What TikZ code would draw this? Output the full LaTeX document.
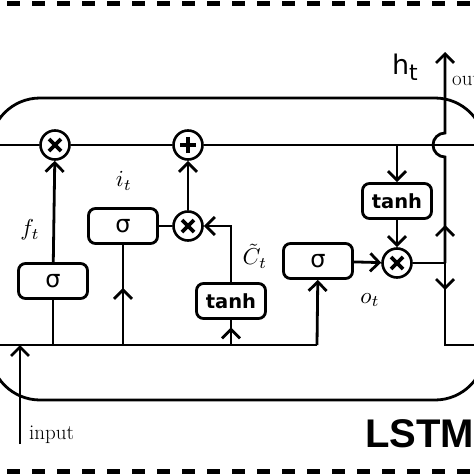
\documentclass[tikz,border=0pt]{standalone}
\usepackage{fontspec}
\usepackage{graphicx}
\usepackage{tikz}
\usetikzlibrary{arrows.meta,positioning,decorations.markings}
\newfontfamily\gatefont{DejaVu Sans}
\newfontfamily\titlefont{Liberation Sans}
\newcommand{\biglabel}[1]{\scalebox{2.3}{$#1$}}

\begin{document}
\begin{tikzpicture}[
  x=1pt,
  y=-1pt,
  wire/.style={
    draw=black,
    line width=2.8pt
  },
  feed/.style={
    wire,
    -{Straight Barb[length=9pt,width=18pt]}
  },
  midfeed/.style={
    wire,
    postaction={decorate},
    decoration={markings,
      mark=at position #1 with {\arrow{Straight Barb[length=9pt,width=18pt]}}}
  },
  midfeed/.default=0.5,
  gatebox/.style={
    rectangle,
    rounded corners=7pt,
    draw=black,
    fill=white,
    line width=2.8pt,
    minimum width=69pt,
    minimum height=35pt,
    inner sep=0pt,
    font=\fontsize{24}{24}\selectfont\gatefont
  },
  tanhbox/.style={
    gatebox,
    font=\fontsize{19.5}{20}\selectfont\gatefont\bfseries
  },
  opcircle/.style={
    circle,
    draw=black,
    fill=white,
    line width=2.6pt,
    minimum size=29pt,
    inner sep=0pt
  },
  mulop/.style={
    opcircle,
    path picture={
      \draw[line width=3.8pt]
        ([shift={(-6pt,-6pt)}]path picture bounding box.center) --
        ([shift={(6pt,6pt)}]path picture bounding box.center)
        ([shift={(-6pt,6pt)}]path picture bounding box.center) --
        ([shift={(6pt,-6pt)}]path picture bounding box.center);
    }
  },
  addop/.style={
    opcircle,
    path picture={
      \draw[line width=3.8pt]
        ([shift={(-8pt,0pt)}]path picture bounding box.center) --
        ([shift={(8pt,0pt)}]path picture bounding box.center)
        ([shift={(0pt,-8pt)}]path picture bounding box.center) --
        ([shift={(0pt,8pt)}]path picture bounding box.center);
    }
  },
  mathlabel/.style={
    inner sep=0pt
  },
  textlabel/.style={
    inner sep=0pt,
    font=\fontsize{21}{21}\selectfont
  },
  dashframe/.style={
    draw=black,
    line width=5pt,
    dash pattern=on 13pt off 12pt
  }
]

\useasboundingbox (0,0) rectangle (474,474);
\fill[white] (0,0) rectangle (474,474);
\clip (0,0) rectangle (474,474);

% dashed frame, top and bottom
\coordinate (frameTL) at (7,3);
\coordinate (frameTR) at (480,3);
\coordinate (frameBL) at (7,471);
\coordinate (frameBR) at (480,471);
\draw[dashframe] (frameTL) -- (frameTR);
\draw[dashframe] (frameBL) -- (frameBR);

% cell outline
\draw[wire, rounded corners=50pt] (-10,98) rectangle (485,400);

% Gates
\node[gatebox] (fgate) at (53,281) {σ};
\node[gatebox] (igate) at (123,226) {σ};
\node[tanhbox] (cgate) at (231,301) {tanh};
\node[gatebox] (ogate) at (318,261) {σ};
\node[tanhbox] (htanh) at (397,201) {tanh};

% Pointwise operations
\node[mulop] (fmul) at (55,145) {};
\node[addop] (cadd) at (188,145) {};
\node[mulop] (imul) at (188,226) {};
\node[mulop] (omul) at (397,263) {};

% Free ends and bends
\coordinate (cellL) at (-10,145);
\coordinate (cellR) at (480,145);
\coordinate (inL)   at (-10,345);
\coordinate (inC)   at (317,345);
\coordinate (inbot) at (20,444);
\coordinate (intip) at (20,345);
\coordinate (outJ)  at (445,263);
\coordinate (hopS)  at (445,157);
\coordinate (htop)  at (445,52);
\coordinate (hbot)  at (445,345);
\coordinate (hR)    at (480,345);

% Cell state
\draw[wire] (cellL) -- (fmul) -- (cadd) -- (cellR);

% Input bus
\draw[feed] (inbot) -- (intip);
\draw[wire] (inL) -- (inC);
\draw[wire] (fgate |- inL) -- (fgate);
\draw[midfeed=0.57] (igate |- inL) -- (igate);
\draw[midfeed=0.7] (cgate |- inL) -- (cgate);
\draw[feed] (inC) -- (ogate);

% Gate outputs
\draw[feed] (fgate) -- (fmul);
\draw[wire] (igate) -- (imul);
\draw[feed] (cgate) |- (imul);
\draw[feed] (imul) -- (cadd);
\draw[feed] (ogate) -- (omul);
\draw[feed] (htanh |- cellL) -- (htanh);
\draw[feed] (htanh) -- (omul);

% Hidden state out
\draw[wire] (omul) -- (outJ);
\draw[wire, -{Straight Barb[length=9pt,width=18pt]},
  postaction={decorate},
  decoration={markings,
    mark=at position 38pt with {\arrow{Straight Barb[length=9pt,width=18pt]}}}]
  (outJ) -- (hopS) arc[start angle=90, end angle=270, radius=12] -- (htop);
\draw[wire,
  postaction={decorate},
  decoration={markings,
    mark=at position 27pt with {\arrow{Straight Barb[length=9pt,width=18pt]}}}]
  (outJ) -- (hbot) -- (hR);

% Labels
\node[mathlabel] (flabel) at (30,230) {\biglabel{f_t}};
\node[mathlabel] (ilabel) at (124,181) {\biglabel{i_t}};
\node[mathlabel] (clabel) at (255,256) {\biglabel{\tilde{C}_t}};
\node[mathlabel] (olabel) at (370,300) {\biglabel{o_t}};
\node[inner sep=0pt, font=\fontsize{27}{27}\selectfont\gatefont] (hlabel) at (405,67)
  {h\raisebox{-6pt}{\fontsize{22}{22}\selectfont t}};
\node[textlabel, anchor=base west] (outlabel) at (452,85) {output};
\node[textlabel, anchor=base west] (inlabel) at (29,439) {input};
\node[inner sep=0pt, anchor=base west, font=\fontsize{40}{40}\selectfont\titlefont\bfseries]
  (title) at (365,447) {LSTM};

\end{tikzpicture}
\end{document}
